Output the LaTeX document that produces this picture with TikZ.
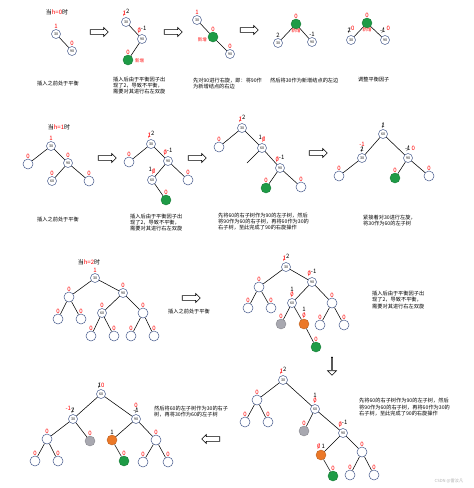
\documentclass[tikz,border=0pt]{standalone}
\usepackage{fontspec}
\setmainfont{Noto Sans CJK SC}
\usetikzlibrary{shapes.arrows}

\definecolor{ring}{RGB}{70,90,140}
\definecolor{newgreen}{RGB}{30,155,70}
\definecolor{rotorange}{RGB}{235,120,40}
\definecolor{subgray}{RGB}{168,168,176}

\newcommand{\xo}[1]{\ooalign{#1\cr\hidewidth/\hidewidth}}
\newcommand{\bk}[1]{{\color{black}#1}}
\newcommand{\up}[1]{\raisebox{1.8pt}{#1}}

\tikzset{
  key/.style={circle, draw=ring, line width=0.5pt, minimum size=9pt, inner sep=0pt,
    font=\fontsize{3.6}{4}\selectfont, label distance=0.6pt},
  hole/.style={circle, draw=ring, line width=0.5pt, minimum size=10pt, inner sep=0pt, label distance=0.6pt},
  added/.style={circle, draw=newgreen!80!black, fill=newgreen, minimum size=10pt, inner sep=0pt, label distance=0.6pt},
  moved/.style={circle, draw=rotorange!80!black, fill=rotorange, minimum size=10pt, inner sep=0pt, label distance=0.6pt},
  kept/.style={circle, draw=subgray!80!black, fill=subgray, minimum size=10pt, inner sep=0pt, label distance=0.6pt},
  bf/.style={text=red, font=\fontsize{6}{5.5}\selectfont, inner sep=0.3pt},
  tag/.style={text=red, font=\fontsize{4.5}{5}\selectfont, inner sep=0pt},
  br/.style={draw=black, line width=0.55pt},
  head/.style={font=\fontsize{6}{6}\selectfont, inner sep=0pt},
  note/.style={anchor=north west, align=left, inner sep=0pt, font=\fontsize{5.2}{6.4}\selectfont},
  turn/.style={single arrow, draw=black, line width=0.6pt, fill=white, minimum height=18pt,
    minimum width=9pt, single arrow head extend=2pt, inner xsep=0pt, inner ysep=2pt}
}

\begin{document}
\begin{tikzpicture}[x=1pt,y=-1pt]
\useasboundingbox (0,0) rectangle (474,488);

% h=0
\node[head] (t0) at (57,12) {当\textcolor{red}{h=0}时};
\node[key, label={[bf]above:1}] (a30) at (56,34) {30};
\node[key, label={[bf]above:0}] (a90) at (72,51) {90};
\path[br] (a30) edge (a90);
\node[note] (d1) at (37,80.5) {插入之前处于平衡};
\node[turn] (r1) at (98,32) {};

\node[key, label={[bf]above:{\xo{1}\up{\bk{2}}}}] (b30) at (126,22) {30};
\node[key, label={[bf]above:{\xo{0}\up{\bk{-1}}}}] (b90) at (142,39) {90};
\node[added, label={[bf]above:0}] (bn) at (128,60) {};
\node[tag, anchor=west] (bt) at (135,61) {新增};
\path[br] (b30) edge (b90) (b90) edge (bn);
\node[note] (d2) at (113,76.5) {插入后由于平衡因子出\\现了2，导致不平衡，\\需要对其进行右左双旋};
\node[turn] (r2) at (172,32) {};

\node[key, label={[bf]above:1}] (c30) at (197,20) {30};
\node[added, label={[bf]above:0}] (cn) at (213,37) {};
\node[tag, anchor=east] (ct) at (207,40) {新增};
\node[key, label={[bf]above:0}] (c90) at (230,54) {90};
\path[br] (c30) edge (cn) (cn) edge (c90);
\node[note] (d3) at (193,77.5) {先对90进行右旋，即：将90作\\为新增结点的右边};
\node[turn] (r3) at (248,30) {};

\node[added, label={[bf]above:0}] (dn) at (296,24) {};
\node[key, label={[bf]above:\bk{2}}] (d30) at (278,43) {30};
\node[key, label={[bf]above:\bk{-1}}] (d90) at (312,42) {90};
\path[br] (dn) edge (d30) (dn) edge (d90);
\node[tag] (dt) at (296,31) {新增};
\node[note] (d4) at (270,77.5) {然后将30作为新增结点的左边};

\node[added, label={[bf]above:0}] (en) at (367,23) {};
\node[key, label={[bf,yshift=1pt]above:{\bk{\xo{2}}\up{0}}}] (e30) at (351,40) {30};
\node[key, label={[bf,yshift=1pt]above:{\bk{\xo{-1}}\,\up{0}}}] (e90) at (385,40) {90};
\path[br] (en) edge (e30) (en) edge (e90);
\node[tag] (et) at (367,30) {新增};
\node[note] (d5) at (358,76.5) {调整平衡因子};

% h=1
\node[head] (t1) at (59,127) {当\textcolor{red}{h=1}时};
\node[key, label={[bf]above:1}] (f30) at (51,146) {30};
\node[hole, label={[bf]above:0}] (fl) at (28,164) {};
\node[key, label={[bf]above:0}] (f90) at (68,163) {90};
\node[key, label={[bf]above:0}] (f60) at (52,181) {60};
\node[hole, label={[bf]above:0}] (fr) at (89,181) {};
\path[br] (f30) edge (fl) (f30) edge (f90) (f90) edge (f60) (f90) edge (fr);
\node[note] (d6) at (37,216.5) {插入之前处于平衡};
\node[turn] (r4) at (106,158) {};

\node[key, label={[bf]above:{\xo{1}\up{\bk{2}}}}] (g30) at (151,144) {30};
\node[hole, label={[bf]above:0}] (gl) at (129,162) {};
\node[key, label={[bf]above:{\xo{0}\up{\bk{-1}}}}] (g90) at (168,161) {90};
\node[key, label={[bf]above:{\up{\bk{1}}\xo{0}}}] (g60) at (152,180) {60};
\node[hole, label={[bf]above:0}] (gr) at (188,180) {};
\node[added, label={[bf]above:0}] (gn) at (166,200) {};
\path[br] (g30) edge (gl) (g30) edge (g90) (g90) edge (g60) (g90) edge (gr) (g60) edge (gn);
\node[note] (d7) at (130,213.5) {插入后由于平衡因子出\\现了2，导致不平衡，\\需要对其进行右左双旋};
\node[turn] (r5) at (196,158) {};

\node[key, label={[bf]above:{\xo{1}\up{\bk{2}}}}] (h30) at (242,128) {30};
\node[hole, label={[bf]above:0}] (hl) at (219,147) {};
\node[key, label={[bf]above:{\up{\bk{1}}\xo{0}}}] (h60) at (262,148) {60};
\coordinate (hd) at (247,163);
\node[key, label={[bf]above:{\xo{0}\up{\bk{-1}}}}] (h90) at (280,168) {90};
\node[added, label={[bf]above:0}] (hn) at (266,188) {};
\node[hole, label={[bf]above:0}] (hr) at (301,187) {};
\path[br] (h30) edge (hl) (h30) edge (h60) (h60) edge (hd) (h60) edge (h90)
  (h90) edge (hn) (h90) edge (hr);
\node[note] (d8) at (218,212.5) {先将60的右子树作为90的左子树，然后\\将90作为60的右子树，再将60作为30的\\右子树，至此完成了90的右旋操作};
\node[turn] (r6) at (317,153) {};

\node[key, label={[bf]above:\bk{\xo{1}}}] (i60) at (383,134) {60};
\node[key, label={[bf,align=center]above:{-1\\\bk{\xo{2}}}}] (i30) at (362,158) {30};
\node[key, label={[bf,yshift=1pt,xshift=2pt]above:{\bk{\xo{-1}}\,0}}] (i90) at (408,158) {90};
\node[hole, label={[bf]above:0}] (il) at (339,176) {};
\node[added, label={[bf]above:0}] (in) at (395,178) {};
\node[hole, label={[bf]above:0}] (ir) at (429,176) {};
\path[br] (i60) edge (i30) (i60) edge (i90) (i30) edge (il) (i90) edge (in) (i90) edge (ir);
\node[note] (d9) at (363,214.5) {紧接着对30进行左旋，\\将30作为60的左子树};

% h=2
\node[head] (t2) at (89,262) {当\textcolor{red}{h=2}时};
\node[key, label={[bf]above:1}] (j30) at (95,278) {30};
\node[hole, label={[bf]above:0}] (jl) at (69,297) {};
\node[key, label={[bf]above:0}] (j90) at (123,293) {90};
\node[hole, label={[bf]above:0}] (jll) at (58,319) {};
\node[hole, label={[bf]above:0}] (jlr) at (81,319) {};
\node[key, label={[bf]above:0}] (j60) at (102,313) {60};
\node[hole, label={[bf]above:0}] (jr) at (143,313) {};
\node[hole, label={[bf]above:0}] (j6l) at (91,336) {};
\node[hole, label={[bf]above:0}] (j6r) at (114,336) {};
\node[hole, label={[bf]above:0}] (jrl) at (131,336) {};
\node[hole, label={[bf]above:0}] (jrr) at (154,336) {};
\path[br] (j30) edge (jl) (j30) edge (j90) (jl) edge (jll) (jl) edge (jlr)
  (j90) edge (j60) (j90) edge (jr) (j60) edge (j6l) (j60) edge (j6r)
  (jr) edge (jrl) (jr) edge (jrr);
\node[turn] (r7) at (190,298) {};
\node[note] (d10) at (168,308.5) {插入之前处于平衡};

\node[key, label={[bf]above:{\xo{1}\up{\bk{2}}}}] (k30) at (286,267) {30};
\node[hole, label={[bf]above:0}] (kl) at (259,287) {};
\node[key, label={[bf]above:{\xo{0}\up{\bk{-1}}}}] (k90) at (312,282) {90};
\node[hole, label={[bf]above:0}] (kll) at (248,308) {};
\node[hole, label={[bf]above:0}] (klr) at (271,308) {};
\node[key, label={[bf,align=center]above:{\bk{1}\\\xo{0}}}] (k60) at (292,303) {60};
\node[hole, label={[bf]above:0}] (kr) at (332,303) {};
\node[kept, label={[bf]above:0}] (kg) at (281,324) {};
\node[moved, label={[bf,align=center]above:{\bk{1}\\\xo{0}}}] (ko) at (304,324) {};
\node[hole, label={[bf]above:0}] (krl) at (320,325) {};
\node[hole, label={[bf]above:0}] (krr) at (344,325) {};
\node[added, label={[bf]above:0}] (kn) at (316,347) {};
\path[br] (k30) edge (kl) (k30) edge (k90) (kl) edge (kll) (kl) edge (klr)
  (k90) edge (k60) (k90) edge (kr) (k60) edge (kg) (k60) edge (ko)
  (kr) edge (krl) (kr) edge (krr) (ko) edge (kn);
\node[note] (d11) at (372,291) {插入后由于平衡因子出\\现了2，导致不平衡，\\需要对其进行右左双旋};
\node[turn, shape border rotate=270] (r8) at (332,366) {};

% right rotation of 90
\node[key, label={[bf]above:{\xo{1}\up{\bk{2}}}}] (l30) at (283,380) {30};
\node[hole, label={[bf]above:0}] (ll) at (257,400) {};
\node[hole, label={[bf]above:0}] (lll) at (245,422) {};
\node[hole, label={[bf]above:0}] (llr) at (268,422) {};
\node[key, label={[bf,align=center]above:{\bk{1}\\\xo{0}}}] (l60) at (315,409) {60};
\node[kept, label={[bf]above:0}] (lg) at (304,431) {};
\node[key, label={[bf]above:{\xo{0}\up{\bk{-1}}}}] (l90) at (343,433) {90};
\node[moved, label={[bf]above:{\xo{0}\,\bk{1}}}] (lo) at (321,455) {};
\node[hole, label={[bf]above:0}] (lr) at (362,452) {};
\node[added, label={[bf]above:0}] (ln) at (333,476) {};
\node[hole, label={[bf]above:0}] (lrl) at (350,475) {};
\node[hole, label={[bf]above:0}] (lrr) at (374,475) {};
\path[br] (l30) edge (ll) (l30) edge (l60) (ll) edge (lll) (ll) edge (llr)
  (l60) edge (lg) (l60) edge (l90) (l90) edge (lo) (l90) edge (lr)
  (lo) edge (ln) (lr) edge (lrl) (lr) edge (lrr);
\node[note] (d12) at (359,398) {先将60的右子树作为90的左子树，然后\\将90作为60的右子树，再将60作为30的\\右子树，至此完成了90的右旋操作};
\node[text=gray!60, font=\fontsize{4.2}{5}\selectfont, inner sep=0pt] (wm) at (449,481) {CSDN @雷汝凡};

% left rotation of 30
\node[turn, shape border rotate=180] (r9) at (212,439) {};
\node[key, label={[bf]above:{\bk{\xo{1}}0}}] (m60) at (101,394) {60};
\node[key, label={[bf,xshift=-3pt]above:{\up{-1}\bk{\xo{2}}}}] (m30) at (73,419) {30};
\node[key, label={[bf,align=center]above:{0\\\bk{\xo{-1}}}}] (m90) at (136,419) {90};
\node[hole, label={[bf]above:0}] (ml) at (47,439) {};
\node[kept, label={[bf]above:0}] (mg) at (90,441) {};
\node[moved, label={[bf]above:\bk{1}}] (mo) at (112,440) {};
\node[hole, label={[bf]above:0}] (mr) at (156,440) {};
\node[hole, label={[bf]above:0}] (mll) at (35,461) {};
\node[hole, label={[bf]above:0}] (mlr) at (58,461) {};
\node[added, label={[bf]above:0}] (mn) at (124,461) {};
\node[hole, label={[bf]above:0}] (mrl) at (143,462) {};
\node[hole, label={[bf]above:0}] (mrr) at (168,462) {};
\path[br] (m60) edge (m30) (m60) edge (m90) (m30) edge (ml) (m30) edge (mg)
  (m90) edge (mo) (m90) edge (mr) (ml) edge (mll) (ml) edge (mlr)
  (mo) edge (mn) (mr) edge (mrl) (mr) edge (mrr);
\node[note] (d13) at (154,405.5) {然后将60的左子树作为30的右子\\树，再将30作为60的左子树};
\end{tikzpicture}
\end{document}
